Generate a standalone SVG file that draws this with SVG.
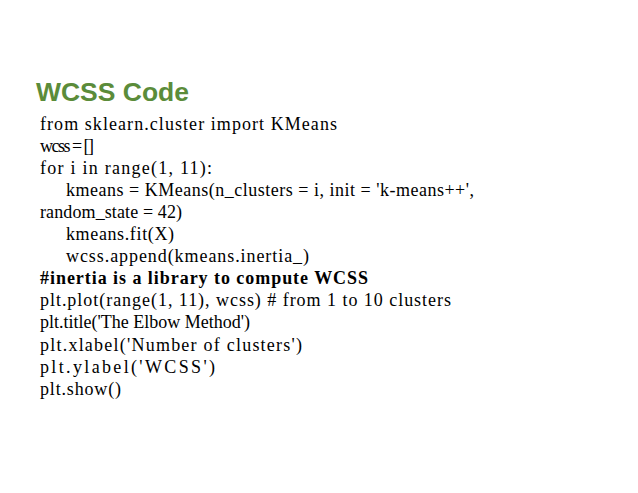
<svg xmlns="http://www.w3.org/2000/svg" width="638" height="493" viewBox="0 0 638 493">
<style>
.t{font-family:"Liberation Sans",Arial,sans-serif;font-size:26px;font-weight:bold;fill:#5b8c3a}
.c{font-family:"Liberation Serif","Times New Roman",serif;font-size:18px;fill:#000}
.b{font-weight:bold}
</style>
<rect width="638" height="493" fill="#fff"/>
<g id="title"><text class="t" x="36" y="101" textLength="153" lengthAdjust="spacingAndGlyphs">WCSS Code</text></g>
<g id="code">
<text class="c" x="40" y="130" textLength="297">from sklearn.cluster import KMeans</text>
<text class="c" x="40" y="152" textLength="54">wcss = []</text>
<text class="c" x="40" y="174" textLength="172">for i in range(1, 11):</text>
<text class="c" x="66" y="196" textLength="408">kmeans = KMeans(n_clusters = i, init = 'k-means++',</text>
<text class="c" x="40" y="218" textLength="142">random_state = 42)</text>
<text class="c" x="66" y="240" textLength="108">kmeans.fit(X)</text>
<text class="c" x="66" y="262" textLength="243">wcss.append(kmeans.inertia_)</text>
<text class="c b" x="40" y="284" textLength="328">#inertia is a library to compute WCSS</text>
<text class="c" x="40" y="306" textLength="411">plt.plot(range(1, 11), wcss) # from 1 to 10 clusters</text>
<text class="c" x="40" y="328" textLength="210">plt.title('The Elbow Method')</text>
<text class="c" x="40" y="351" textLength="262">plt.xlabel('Number of clusters')</text>
<text class="c" x="40" y="373" textLength="175">plt.ylabel('WCSS')</text>
<text class="c" x="40" y="395" textLength="81">plt.show()</text>
</g>
</svg>
